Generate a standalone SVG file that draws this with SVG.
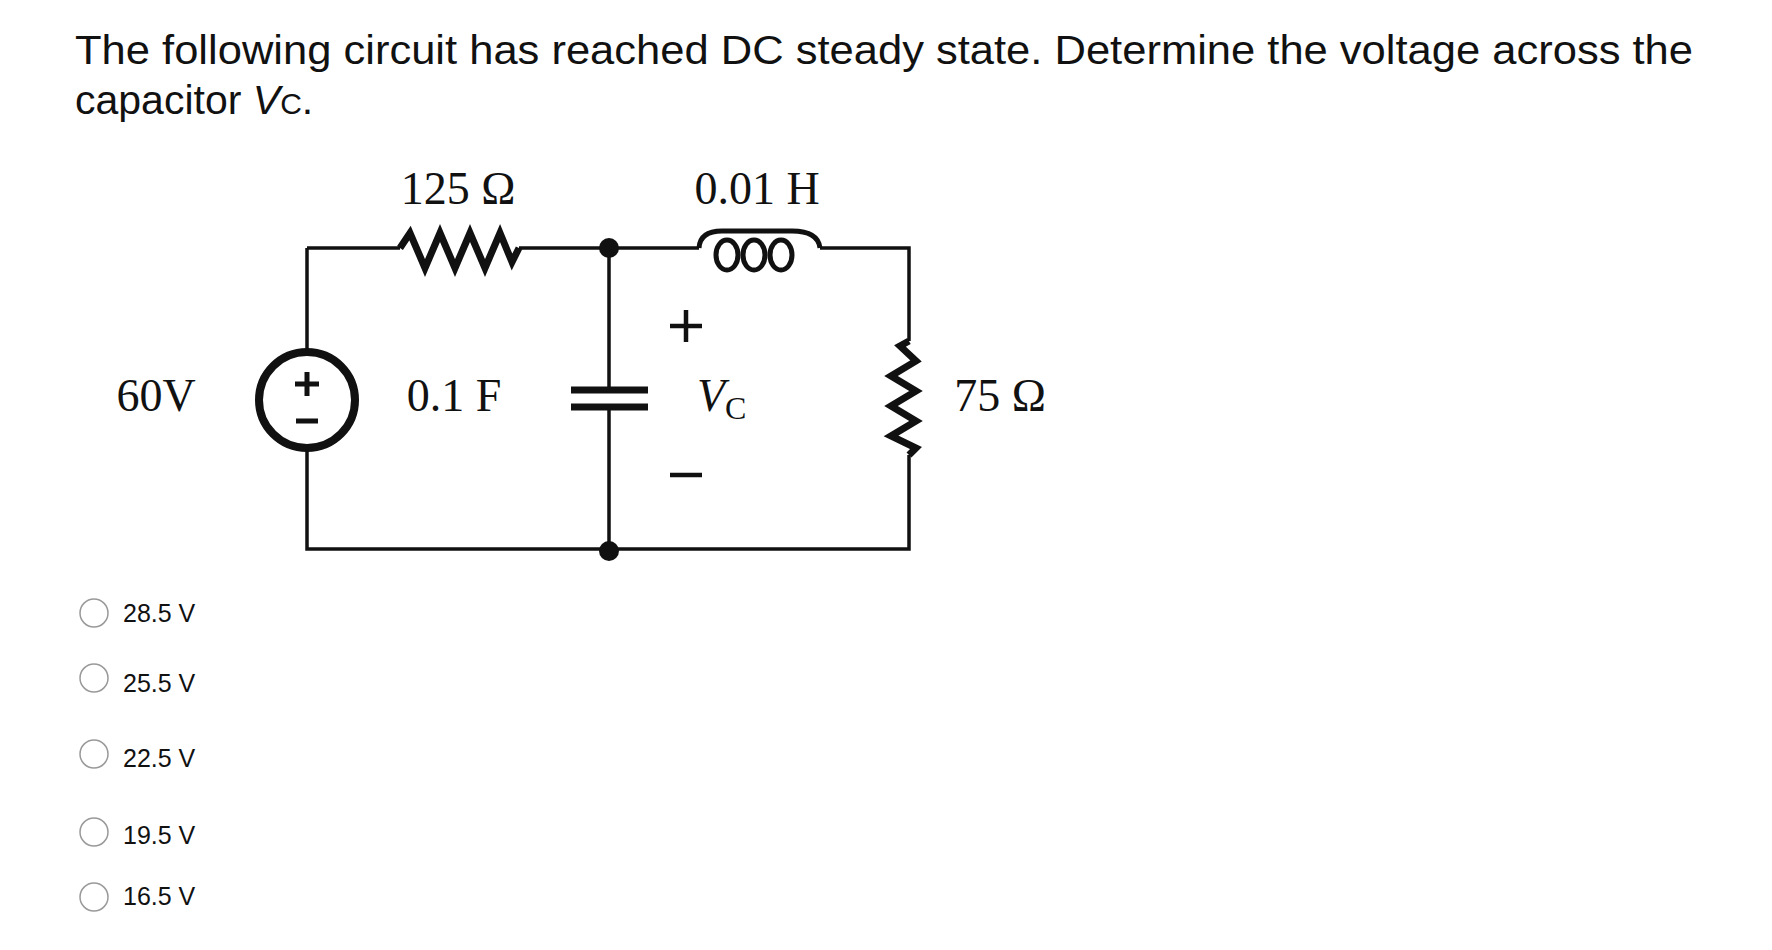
<svg xmlns="http://www.w3.org/2000/svg" width="1772" height="950" viewBox="0 0 1772 950">
<style>
.q{font-family:"Liberation Sans",Arial,sans-serif;font-size:41px;fill:#111}
.t{font-family:"Liberation Serif","Times New Roman",serif;font-size:46px;fill:#111}
.o{font-family:"Liberation Sans",Arial,sans-serif;font-size:25px;fill:#111}
.w{fill:none;stroke:#111;stroke-width:3.5}
.z{fill:none;stroke:#111;stroke-width:7;stroke-linejoin:miter}
.rb{fill:#fff;stroke:#999;stroke-width:1.5}
</style>
<rect width="1772" height="950" fill="#fff"/>
<text class="q" x="75" y="64" textLength="1618" lengthAdjust="spacingAndGlyphs">The following circuit has reached DC steady state.  Determine the voltage across the</text>
<text class="q" x="75" y="114">capacitor <tspan font-style="italic">V</tspan><tspan font-size="30">C</tspan>.</text>
<g id="wires" class="w">
<path d="M307 248 H400 M519 248 H699 M820 248 H909 V341 M909 455 V549 H307 V450 M307 350 V248 M609 248 V390 M609 407 V551"/>
</g>
<g id="r125"><path class="z" d="M400 248 L410 233 L425 268 L440 233 L455 268 L470 233 L485 268 L500 233 L512 262 L519 248"/><text class="t" x="458" y="204" text-anchor="middle">125 Ω</text></g>
<g id="ind"><g fill="none" stroke="#111" stroke-width="5"><path d="M699 248 Q700 231 722 231 H792 Q818 231 820 248"/><ellipse cx="727" cy="255" rx="11" ry="15"/><ellipse cx="754" cy="255" rx="11" ry="15"/><ellipse cx="781" cy="255" rx="11" ry="15"/></g><text class="t" x="757" y="204" text-anchor="middle">0.01 H</text></g>
<g id="src"><circle cx="307" cy="400" r="48" fill="#fff" stroke="#111" stroke-width="8"/><path d="M307 372 V396 M295 384 H319 M296 421 H318" stroke="#111" stroke-width="5"/><text class="t" x="156" y="411" text-anchor="middle">60V</text></g>
<g id="cap"><path d="M571 390 H648 M571 407 H648" stroke="#111" stroke-width="7"/><text class="t" x="454" y="411" text-anchor="middle">0.1 F</text></g>
<g id="vc"><path d="M670 326 H702 M686 310 V342 M670 475 H702" stroke="#111" stroke-width="4.5"/><text class="t" x="697" y="411" font-style="italic">V<tspan font-size="32" font-style="normal" dy="8">C</tspan></text></g>
<g id="r75"><path class="z" d="M909 341 L900 346 L916 361 L891 376 L916 391 L891 406 L916 421 L891 436 L916 448 L909 455"/><text class="t" x="1000" y="411" text-anchor="middle">75 Ω</text></g>
<g id="nodes" fill="#111"><circle cx="609" cy="248" r="10"/><circle cx="609" cy="551" r="10"/></g>
<g id="opts">
<circle class="rb" cx="94" cy="613" r="14"/><text class="o" x="123" y="622">28.5 V</text>
<circle class="rb" cx="94" cy="678" r="14"/><text class="o" x="123" y="692">25.5 V</text>
<circle class="rb" cx="94" cy="754" r="14"/><text class="o" x="123" y="767">22.5 V</text>
<circle class="rb" cx="94" cy="832" r="14"/><text class="o" x="123" y="844">19.5 V</text>
<circle class="rb" cx="94" cy="897" r="14"/><text class="o" x="123" y="905">16.5 V</text>
</g>
</svg>
